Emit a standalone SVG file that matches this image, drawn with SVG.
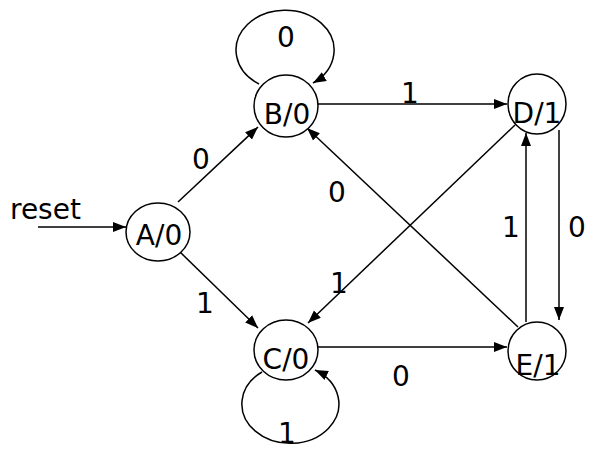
<svg xmlns="http://www.w3.org/2000/svg" width="596" height="460" viewBox="0 0 596 460">
<style>
.st{fill:#fff;stroke:#000;stroke-width:1.5}
.lb{font-family:"DejaVu Sans",Verdana,sans-serif;font-size:28px;fill:#000;text-anchor:middle}
.ed{fill:none;stroke:#000;stroke-width:1.5;marker-end:url(#ah)}
</style>
<defs>
<marker id="ah" markerUnits="userSpaceOnUse" markerWidth="14" markerHeight="12" refX="13" refY="6" orient="auto">
<path d="M0,1 L13,6 L0,11 Z" fill="#000"/>
</marker>
</defs>
<rect width="596" height="460" fill="#fff"/>
<g id="connectors">
<path class="ed" d="M38 227 L126 227"/>
<path class="ed" d="M178 202 L258 127"/>
<path class="ed" d="M180 252 L258 328"/>
<path class="ed" d="M318 104 L507 104"/>
<path class="ed" d="M318 347 L507 347"/>
<path class="ed" d="M515 125 L308 323"/>
<path class="ed" d="M518 327 L307 128"/>
<path class="ed" d="M526 322 L526 133"/>
<path class="ed" d="M559 130 L559 320"/>
<path class="ed" d="M259 84 A49 40 0 1 1 313 83"/>
<path class="ed" d="M262 372 A48.5 39.4 0 1 0 315 370"/>
<text class="lb" x="10" y="219" style="text-anchor:start">reset</text>
<text class="lb" x="201" y="169">0</text>
<text class="lb" x="205" y="313">1</text>
<text class="lb" x="410" y="103">1</text>
<text class="lb" x="401" y="386">0</text>
<text class="lb" x="339" y="293">1</text>
<text class="lb" x="337" y="202">0</text>
<text class="lb" x="511" y="237">1</text>
<text class="lb" x="577" y="237">0</text>
<text class="lb" x="286" y="47">0</text>
<text class="lb" x="287" y="443">1</text>
</g>
<g id="A"><ellipse class="st" cx="158" cy="232" rx="32" ry="29"/><text class="lb" x="159" y="245">A/0</text></g>
<g id="B"><ellipse class="st" cx="286" cy="106" rx="32" ry="31"/><text class="lb" x="287" y="124">B/0</text></g>
<g id="C"><ellipse class="st" cx="286" cy="350" rx="32" ry="30"/><text class="lb" x="286" y="369">C/0</text></g>
<g id="D"><ellipse class="st" cx="537" cy="104" rx="29" ry="30"/><text class="lb" x="537" y="123">D/1</text></g>
<g id="E"><ellipse class="st" cx="537" cy="351" rx="29" ry="29"/><text class="lb" x="538" y="375">E/1</text></g>
</svg>
